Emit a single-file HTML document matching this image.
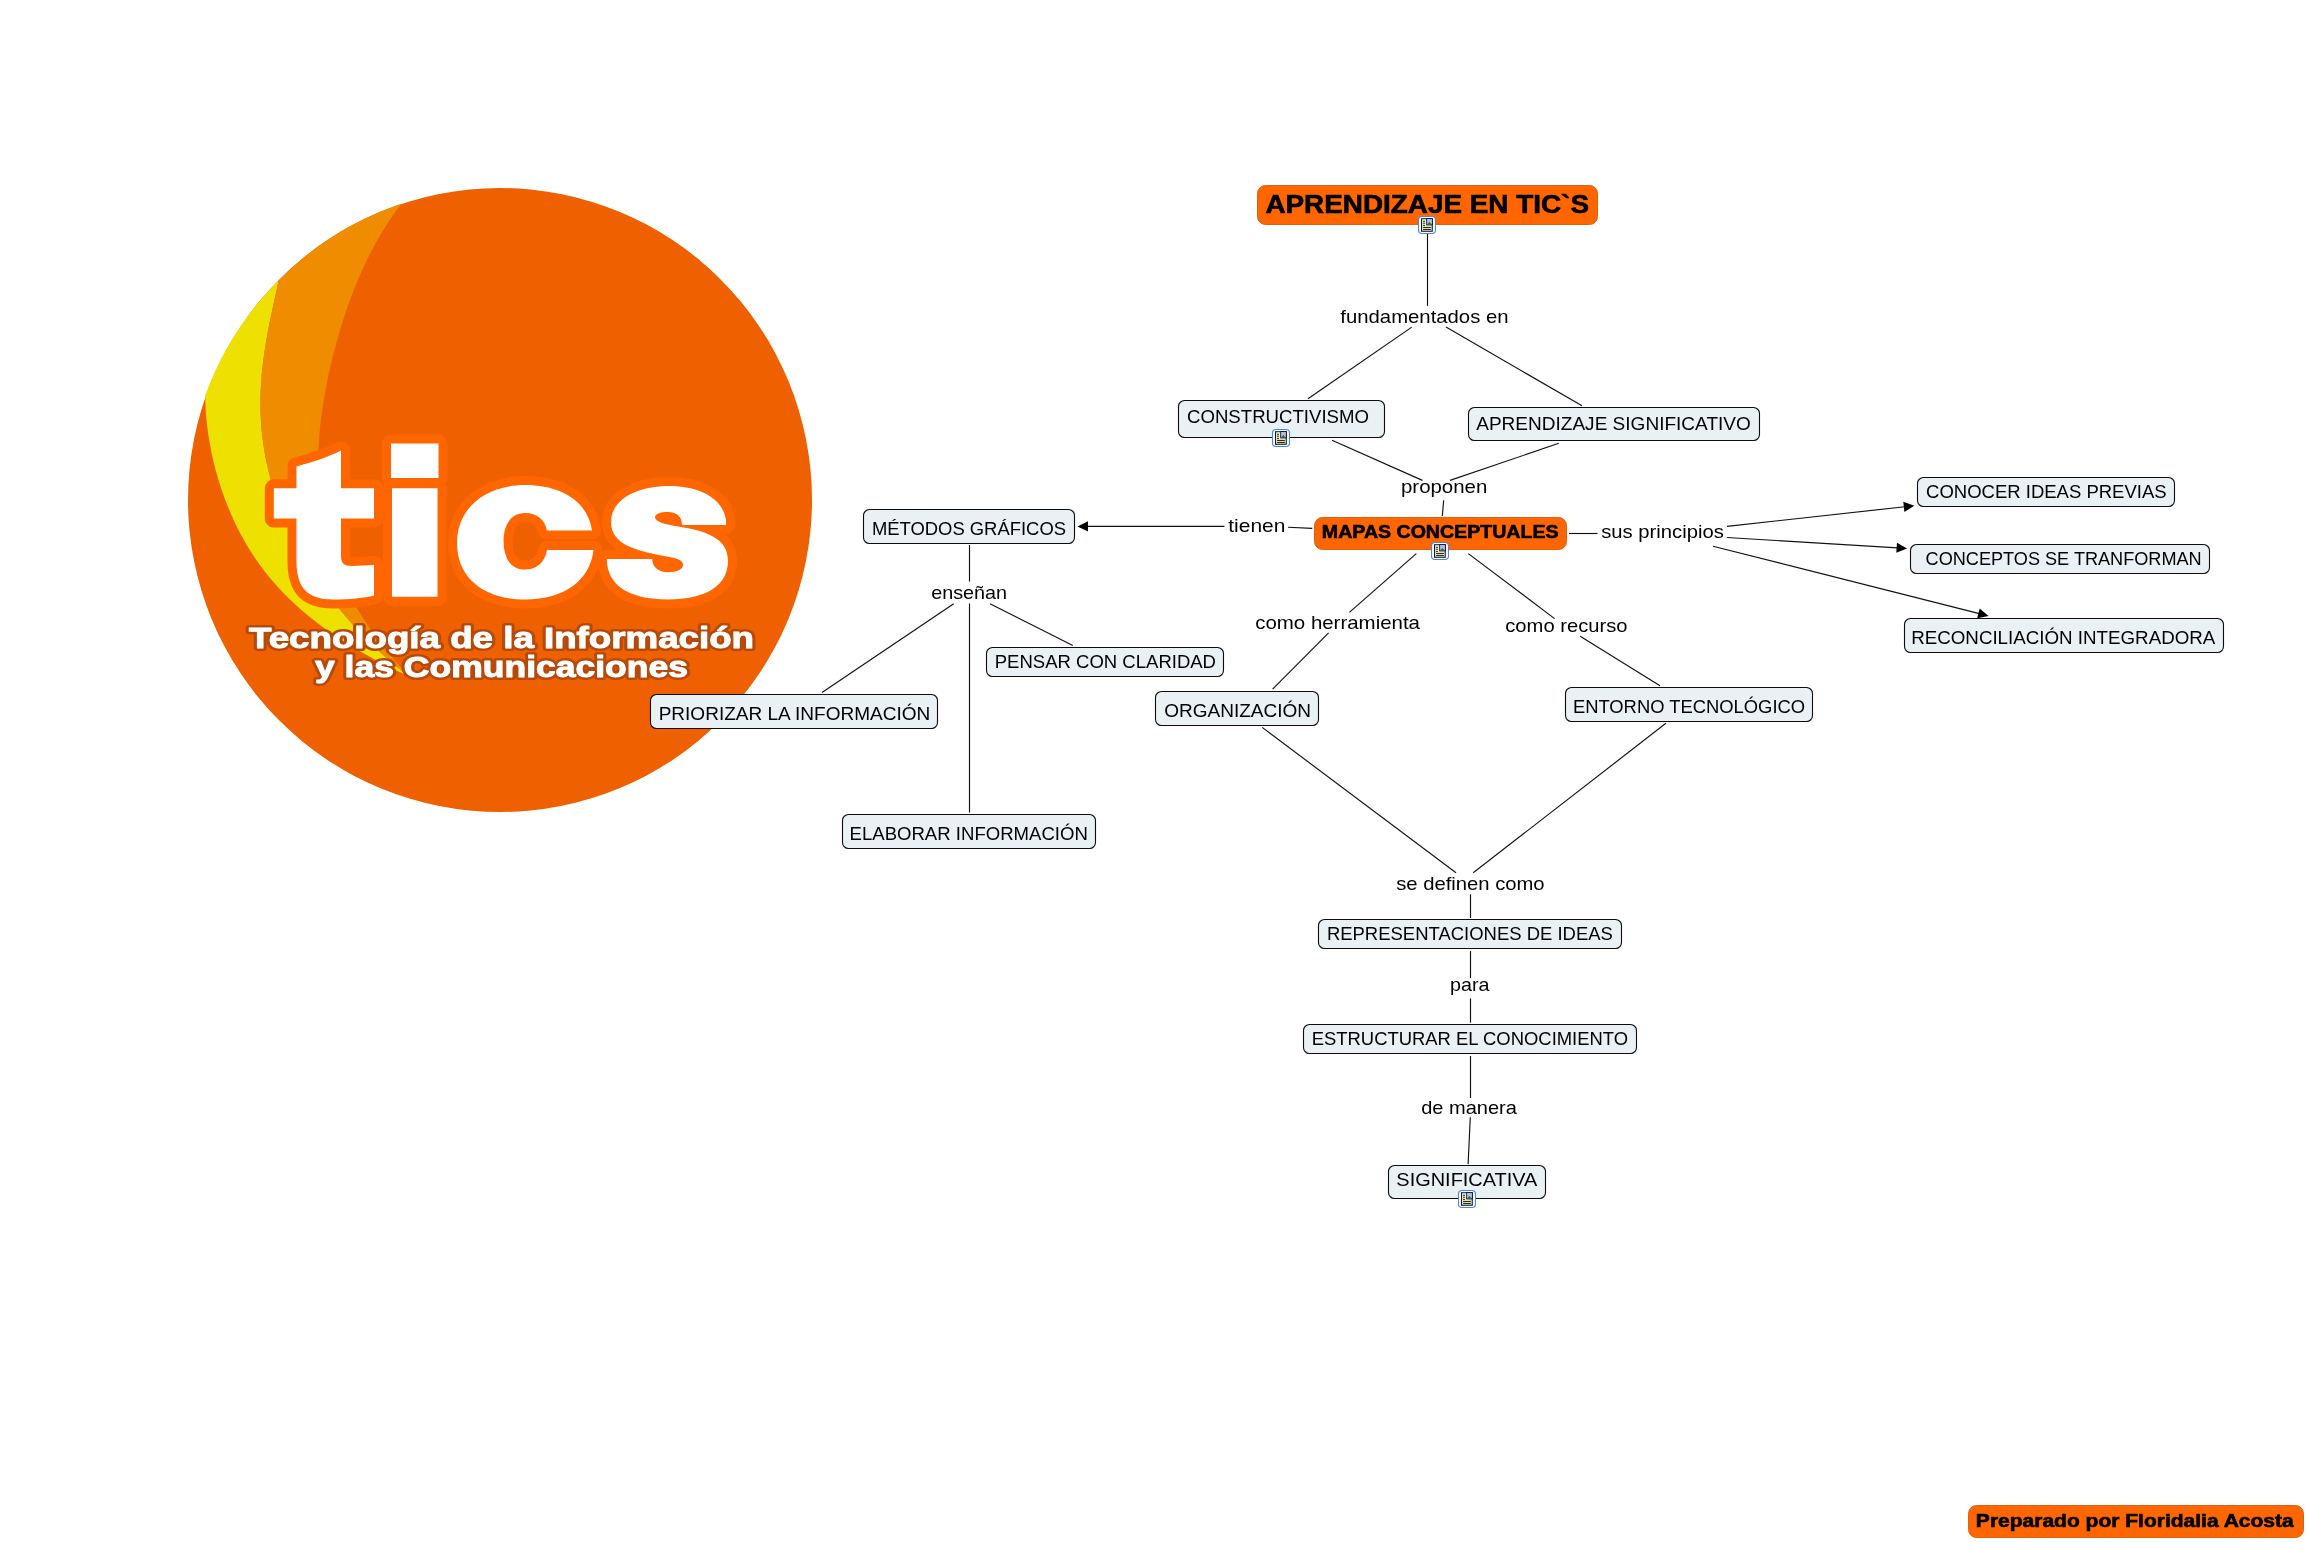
<!DOCTYPE html><html><head><meta charset="utf-8"><title>Mapa conceptual</title><style>html,body{margin:0;padding:0;background:#fff;}svg{display:block;will-change:transform;}text{font-family:"Liberation Sans",sans-serif;}#texts text{fill:#000;}#texts text[font-weight="700"]{fill:#000;stroke:#000;stroke-width:0.6px;}.ln line{stroke:#111;stroke-width:1.15;}.ah{fill:#000;stroke:none;}</style></head><body>
<svg width="2307" height="1542" viewBox="0 0 2307 1542">
<rect width="2307" height="1542" fill="#ffffff"/>
<g id="logo"><circle cx="500" cy="500" r="312" fill="#ee6000"/><path fill="#eee000" d="M 278.6,280.6 A 312 312 0 0 0 205.4,395 C 205.4,396 205.37,399 205.41,401 C 205.44,403 205.5,405 205.59,407 C 205.68,409 205.79,411 205.93,413 C 206.07,415 206.23,417 206.41,419 C 206.59,421 206.8,423 207.03,425 C 207.26,427 207.51,429 207.78,431 C 208.06,433 208.35,435 208.67,437 C 208.98,439 209.32,441 209.67,443 C 210.03,445 210.4,447 210.8,449 C 211.19,451 211.61,453 212.05,455 C 212.48,457 212.94,459 213.41,461 C 213.89,463 214.38,465 214.9,467 C 215.41,469 215.95,471 216.5,473 C 217.06,475 217.63,477 218.23,479 C 218.83,481 219.44,483 220.08,485 C 220.72,487 221.38,489 222.06,491 C 222.75,493 223.45,495 224.18,497 C 224.91,499 225.66,501 226.43,503 C 227.21,505 228,507 228.83,509 C 229.65,511 230.5,513 231.38,515 C 232.26,517 233.16,519 234.09,521 C 235.02,523 235.98,525 236.97,527 C 237.96,529 238.98,531 240.04,533 C 241.09,535 242.17,537 243.29,539 C 244.41,541 245.56,543 246.75,545 C 247.94,547 249.16,549 250.42,551 C 251.69,553 252.98,555 254.33,557 C 255.67,559 257.05,561 258.48,563 C 259.9,565 261.37,567 262.89,569 C 264.41,571 265.97,573 267.58,575 C 269.19,577 270.85,579 272.56,581 C 274.28,583 276.04,585 277.86,587 C 279.68,589 281.55,591 283.49,593 C 285.43,595 287.42,597 289.48,599 C 291.53,601 293.65,603 295.84,605 C 298.02,607 300.27,609 302.59,611 C 304.91,613 307.3,615 309.77,617 C 312.24,619 314.77,621 317.39,623 C 320.01,625 322.7,627 325.48,629 C 328.26,631 331.12,633 334.07,635 C 337.02,637 340.05,639 343.17,641 C 346.3,643 349.52,645 352.83,647 C 356.15,649 359.55,651 363.07,653 C 366.58,655 370.19,657 373.91,659 C 377.63,661 381.45,663 385.39,665 C 389.33,667 393.94,669.25 397.55,671 C 401.15,672.75 405.42,674.75 407,675.5 C 406.04,674.68 403.4,672.42 401.24,670.6 C 399.08,668.78 396.4,666.6 394.05,664.6 C 391.7,662.6 389.41,660.6 387.15,658.6 C 384.89,656.6 382.68,654.6 380.51,652.6 C 378.34,650.6 376.22,648.6 374.13,646.6 C 372.05,644.6 370.01,642.6 368,640.6 C 366,638.6 364.03,636.6 362.1,634.6 C 360.17,632.6 358.28,630.6 356.43,628.6 C 354.57,626.6 352.75,624.6 350.97,622.6 C 349.18,620.6 347.43,618.6 345.72,616.6 C 344,614.6 342.32,612.6 340.66,610.6 C 339.01,608.6 337.39,606.6 335.8,604.6 C 334.22,602.6 332.66,600.6 331.13,598.6 C 329.6,596.6 328.11,594.6 326.64,592.6 C 325.17,590.6 323.73,588.6 322.32,586.6 C 320.9,584.6 319.52,582.6 318.16,580.6 C 316.81,578.6 315.48,576.6 314.18,574.6 C 312.87,572.6 311.6,570.6 310.35,568.6 C 309.1,566.6 307.88,564.6 306.68,562.6 C 305.48,560.6 304.31,558.6 303.16,556.6 C 302.02,554.6 300.89,552.6 299.8,550.6 C 298.7,548.6 297.63,546.6 296.58,544.6 C 295.53,542.6 294.51,540.6 293.51,538.6 C 292.5,536.6 291.53,534.6 290.58,532.6 C 289.62,530.6 288.69,528.6 287.79,526.6 C 286.88,524.6 286,522.6 285.14,520.6 C 284.28,518.6 283.45,516.6 282.63,514.6 C 281.82,512.6 281.03,510.6 280.26,508.6 C 279.5,506.6 278.75,504.6 278.03,502.6 C 277.31,500.6 276.61,498.6 275.94,496.6 C 275.26,494.6 274.61,492.6 273.98,490.6 C 273.35,488.6 272.74,486.6 272.15,484.6 C 271.57,482.6 271,480.6 270.46,478.6 C 269.92,476.6 269.4,474.6 268.91,472.6 C 268.41,470.6 267.94,468.6 267.49,466.6 C 267.03,464.6 266.6,462.6 266.2,460.6 C 265.79,458.6 265.4,456.6 265.04,454.6 C 264.68,452.6 264.34,450.6 264.02,448.6 C 263.7,446.6 263.4,444.6 263.13,442.6 C 262.85,440.6 262.6,438.6 262.36,436.6 C 262.13,434.6 261.92,432.6 261.73,430.6 C 261.54,428.6 261.37,426.6 261.23,424.6 C 261.08,422.6 260.95,420.6 260.85,418.6 C 260.74,416.6 260.66,414.6 260.6,412.6 C 260.53,410.6 260.49,408.6 260.47,406.6 C 260.44,404.6 260.44,402.6 260.46,400.6 C 260.47,398.6 260.51,396.6 260.57,394.6 C 260.62,392.6 260.7,390.6 260.79,388.6 C 260.89,386.6 261,384.6 261.13,382.6 C 261.26,380.6 261.41,378.6 261.58,376.6 C 261.75,374.6 261.93,372.6 262.13,370.6 C 262.33,368.6 262.55,366.6 262.78,364.6 C 263.02,362.6 263.27,360.6 263.53,358.6 C 263.79,356.6 264.07,354.6 264.37,352.6 C 264.66,350.6 264.97,348.6 265.29,346.6 C 265.61,344.6 265.94,342.6 266.29,340.6 C 266.63,338.6 266.99,336.6 267.36,334.6 C 267.72,332.6 268.1,330.6 268.49,328.6 C 268.87,326.6 269.27,324.6 269.67,322.6 C 270.08,320.6 270.49,318.6 270.9,316.6 C 271.32,314.6 271.74,312.6 272.17,310.6 C 272.6,308.6 273.03,306.6 273.46,304.6 C 273.9,302.6 274.33,300.6 274.77,298.6 C 275.2,296.6 275.64,294.6 276.08,292.6 C 276.51,290.6 276.95,288.6 277.37,286.6 C 277.8,284.6 278.4,281.6 278.6,280.6 Z"/><path fill="#ef8c00" d="M 401.9,203.6 A 312 312 0 0 0 278.6,280.6 C 278.4,281.6 277.8,284.6 277.37,286.6 C 276.95,288.6 276.51,290.6 276.08,292.6 C 275.64,294.6 275.2,296.6 274.77,298.6 C 274.33,300.6 273.9,302.6 273.46,304.6 C 273.03,306.6 272.6,308.6 272.17,310.6 C 271.74,312.6 271.32,314.6 270.9,316.6 C 270.49,318.6 270.08,320.6 269.67,322.6 C 269.27,324.6 268.87,326.6 268.49,328.6 C 268.1,330.6 267.72,332.6 267.36,334.6 C 266.99,336.6 266.63,338.6 266.29,340.6 C 265.94,342.6 265.61,344.6 265.29,346.6 C 264.97,348.6 264.66,350.6 264.37,352.6 C 264.07,354.6 263.79,356.6 263.53,358.6 C 263.27,360.6 263.02,362.6 262.78,364.6 C 262.55,366.6 262.33,368.6 262.13,370.6 C 261.93,372.6 261.75,374.6 261.58,376.6 C 261.41,378.6 261.26,380.6 261.13,382.6 C 261,384.6 260.89,386.6 260.79,388.6 C 260.7,390.6 260.62,392.6 260.57,394.6 C 260.51,396.6 260.47,398.6 260.46,400.6 C 260.44,402.6 260.44,404.6 260.47,406.6 C 260.49,408.6 260.53,410.6 260.6,412.6 C 260.66,414.6 260.74,416.6 260.85,418.6 C 260.95,420.6 261.08,422.6 261.23,424.6 C 261.37,426.6 261.54,428.6 261.73,430.6 C 261.92,432.6 262.13,434.6 262.36,436.6 C 262.6,438.6 262.85,440.6 263.13,442.6 C 263.4,444.6 263.7,446.6 264.02,448.6 C 264.34,450.6 264.68,452.6 265.04,454.6 C 265.4,456.6 265.79,458.6 266.2,460.6 C 266.6,462.6 267.03,464.6 267.49,466.6 C 267.94,468.6 268.41,470.6 268.91,472.6 C 269.4,474.6 269.92,476.6 270.46,478.6 C 271,480.6 271.57,482.6 272.15,484.6 C 272.74,486.6 273.35,488.6 273.98,490.6 C 274.61,492.6 275.26,494.6 275.94,496.6 C 276.61,498.6 277.31,500.6 278.03,502.6 C 278.75,504.6 279.5,506.6 280.26,508.6 C 281.03,510.6 281.82,512.6 282.63,514.6 C 283.45,516.6 284.28,518.6 285.14,520.6 C 286,522.6 286.88,524.6 287.79,526.6 C 288.69,528.6 289.62,530.6 290.58,532.6 C 291.53,534.6 292.5,536.6 293.51,538.6 C 294.51,540.6 295.53,542.6 296.58,544.6 C 297.63,546.6 298.7,548.6 299.8,550.6 C 300.89,552.6 302.02,554.6 303.16,556.6 C 304.31,558.6 305.48,560.6 306.68,562.6 C 307.88,564.6 309.1,566.6 310.35,568.6 C 311.6,570.6 312.87,572.6 314.18,574.6 C 315.48,576.6 316.81,578.6 318.16,580.6 C 319.52,582.6 320.9,584.6 322.32,586.6 C 323.73,588.6 325.17,590.6 326.64,592.6 C 328.11,594.6 329.6,596.6 331.13,598.6 C 332.66,600.6 334.22,602.6 335.8,604.6 C 337.39,606.6 339.01,608.6 340.66,610.6 C 342.32,612.6 344,614.6 345.72,616.6 C 347.43,618.6 349.18,620.6 350.97,622.6 C 352.75,624.6 354.57,626.6 356.43,628.6 C 358.28,630.6 360.17,632.6 362.1,634.6 C 364.03,636.6 366,638.6 368,640.6 C 370.01,642.6 372.05,644.6 374.13,646.6 C 376.22,648.6 378.34,650.6 380.51,652.6 C 382.68,654.6 384.89,656.6 387.15,658.6 C 389.41,660.6 391.7,662.6 394.05,664.6 C 396.4,666.6 399.08,668.78 401.24,670.6 C 403.4,672.42 406.04,674.68 407,675.5 C 406.56,674.85 405.67,673.25 404.34,671.6 C 403.02,669.95 400.78,667.6 399.04,665.6 C 397.3,663.6 395.59,661.6 393.91,659.6 C 392.22,657.6 390.56,655.6 388.93,653.6 C 387.3,651.6 385.7,649.6 384.13,647.6 C 382.56,645.6 381.02,643.6 379.5,641.6 C 377.99,639.6 376.5,637.6 375.04,635.6 C 373.59,633.6 372.16,631.6 370.76,629.6 C 369.36,627.6 368,625.6 366.66,623.6 C 365.32,621.6 364.01,619.6 362.73,617.6 C 361.45,615.6 360.2,613.6 358.98,611.6 C 357.76,609.6 356.57,607.6 355.41,605.6 C 354.25,603.6 353.11,601.6 352.01,599.6 C 350.91,597.6 349.84,595.6 348.79,593.6 C 347.75,591.6 346.74,589.6 345.75,587.6 C 344.77,585.6 343.81,583.6 342.88,581.6 C 341.96,579.6 341.06,577.6 340.19,575.6 C 339.32,573.6 338.48,571.6 337.66,569.6 C 336.85,567.6 336.06,565.6 335.31,563.6 C 334.55,561.6 333.82,559.6 333.12,557.6 C 332.41,555.6 331.74,553.6 331.09,551.6 C 330.44,549.6 329.82,547.6 329.22,545.6 C 328.63,543.6 328.06,541.6 327.52,539.6 C 326.97,537.6 326.45,535.6 325.96,533.6 C 325.47,531.6 325,529.6 324.56,527.6 C 324.12,525.6 323.7,523.6 323.31,521.6 C 322.91,519.6 322.54,517.6 322.2,515.6 C 321.85,513.6 321.53,511.6 321.23,509.6 C 320.93,507.6 320.65,505.6 320.4,503.6 C 320.14,501.6 319.91,499.6 319.7,497.6 C 319.49,495.6 319.3,493.6 319.13,491.6 C 318.96,489.6 318.81,487.6 318.69,485.6 C 318.56,483.6 318.45,481.6 318.36,479.6 C 318.28,477.6 318.21,475.6 318.16,473.6 C 318.11,471.6 318.08,469.6 318.07,467.6 C 318.06,465.6 318.06,463.6 318.09,461.6 C 318.11,459.6 318.16,457.6 318.21,455.6 C 318.27,453.6 318.35,451.6 318.44,449.6 C 318.54,447.6 318.65,445.6 318.77,443.6 C 318.9,441.6 319.04,439.6 319.19,437.6 C 319.35,435.6 319.52,433.6 319.71,431.6 C 319.89,429.6 320.1,427.6 320.31,425.6 C 320.53,423.6 320.76,421.6 321,419.6 C 321.24,417.6 321.5,415.6 321.77,413.6 C 322.04,411.6 322.33,409.6 322.63,407.6 C 322.92,405.6 323.23,403.6 323.56,401.6 C 323.88,399.6 324.21,397.6 324.56,395.6 C 324.91,393.6 325.27,391.6 325.64,389.6 C 326.01,387.6 326.4,385.6 326.79,383.6 C 327.19,381.6 327.6,379.6 328.01,377.6 C 328.43,375.6 328.86,373.6 329.3,371.6 C 329.75,369.6 330.2,367.6 330.66,365.6 C 331.13,363.6 331.6,361.6 332.09,359.6 C 332.58,357.6 333.07,355.6 333.58,353.6 C 334.09,351.6 334.61,349.6 335.15,347.6 C 335.68,345.6 336.22,343.6 336.78,341.6 C 337.33,339.6 337.9,337.6 338.48,335.6 C 339.05,333.6 339.64,331.6 340.25,329.6 C 340.85,327.6 341.46,325.6 342.09,323.6 C 342.72,321.6 343.36,319.6 344.01,317.6 C 344.66,315.6 345.33,313.6 346,311.6 C 346.68,309.6 347.37,307.6 348.08,305.6 C 348.79,303.6 349.51,301.6 350.24,299.6 C 350.98,297.6 351.73,295.6 352.49,293.6 C 353.26,291.6 354.04,289.6 354.84,287.6 C 355.64,285.6 356.45,283.6 357.28,281.6 C 358.12,279.6 358.97,277.6 359.83,275.6 C 360.7,273.6 361.59,271.6 362.5,269.6 C 363.4,267.6 364.33,265.6 365.28,263.6 C 366.22,261.6 367.19,259.6 368.18,257.6 C 369.18,255.6 370.19,253.6 371.23,251.6 C 372.26,249.6 373.33,247.6 374.41,245.6 C 375.5,243.6 376.61,241.6 377.76,239.6 C 378.9,237.6 380.06,235.6 381.26,233.6 C 382.46,231.6 383.69,229.6 384.94,227.6 C 386.2,225.6 387.49,223.6 388.81,221.6 C 390.14,219.6 391.49,217.6 392.88,215.6 C 394.28,213.6 395.67,211.6 397.17,209.6 C 398.67,207.6 401.11,204.6 401.9,203.6 Z"/></g>

<g id="tics" fill="#ffffff" stroke="#ff6600" stroke-width="18" stroke-linejoin="round" paint-order="stroke">
  <path d="M 296.5,466.5 C 312,462 326,458 341,450.5 L 341,488.3 L 374,488.3 L 374,518.6 L 341,518.6 L 341,556 C 341,563 344,566 352,566 L 374,565 L 374,595.5 C 364,598 350,599.5 333,599.5 C 308,599.5 296.5,588 296.5,562 L 296.5,518.6 L 273.8,518.6 L 273.8,488.3 L 296.5,488.3 Z"/>
  <path d="M 391,443.5 L 438.5,443.5 L 438.5,478 L 391,478 Z M 392,488.3 L 437.5,488.3 L 437.5,596.8 L 392,596.8 Z"/>
  <path d="M 592,530.5 C 588,502 562,485 525,485 C 483,485 457,510 457,543 C 457,578 484,599.5 525,599.5 C 565,599.5 590,580 593.5,550 L 547,550 C 545,562 537,569.5 525,569.5 C 510,569.5 503.6,557 503.6,541 C 503.6,525 511,513 525,513 C 537,513 545,520 547,530.5 Z"/>
  <path d="M 669,486 C 702,486 724,500 726,521 L 726,525 L 682,525 C 682,517 677,512 668,512 C 660,512 655,514 655,517.5 C 656,522 664,524.5 681,527 C 712,532 728,541 728,561 C 728,586 705,599.5 668,599.5 C 630,599.5 607,586 606.8,559 L 652.2,559 C 652.2,568 660,572.2 668,572.2 C 678,572.2 683,569 683,565 C 683,561 679,559 672,557.5 C 636,551 611,545 611,522 C 611,500 636,486 669,486 Z"/>
</g>

<g id="sub"><g style="font-family:'Liberation Sans',sans-serif;font-weight:700;fill:#b64a0a;stroke:#b64a0a;stroke-width:6px;stroke-linejoin:round"><text x="249" y="647.5" font-size="29" textLength="505" lengthAdjust="spacingAndGlyphs">Tecnología de la Información</text><text x="315" y="676.5" font-size="29" textLength="373" lengthAdjust="spacingAndGlyphs">y las Comunicaciones</text></g><g style="font-family:'Liberation Sans',sans-serif;font-weight:700;fill:#ffffff;stroke:#ffffff;stroke-width:1px;stroke-linejoin:round"><text x="249" y="647.5" font-size="29" textLength="505" lengthAdjust="spacingAndGlyphs">Tecnología de la Información</text><text x="315" y="676.5" font-size="29" textLength="373" lengthAdjust="spacingAndGlyphs">y las Comunicaciones</text></g></g>
<g class="ln" id="lines">
<line x1="1427.5" y1="234" x2="1427.5" y2="305.9"/>
<line x1="1411.8" y1="327.1" x2="1308" y2="398.8"/>
<line x1="1446" y1="327.1" x2="1582" y2="405.8"/>
<line x1="1332" y1="440.3" x2="1422.4" y2="480.4"/>
<line x1="1558.8" y1="443.3" x2="1450" y2="480.4"/>
<line x1="1443.7" y1="500.3" x2="1442.3" y2="516"/>
<line x1="1312.3" y1="528.4" x2="1288" y2="527.2"/>
<line x1="1569" y1="533.5" x2="1597.5" y2="533.5"/>
<line x1="1416.3" y1="553.6" x2="1349.4" y2="612.4"/>
<line x1="1328.6" y1="632.9" x2="1272.6" y2="689.2"/>
<line x1="1468.3" y1="553.6" x2="1554.6" y2="618.6"/>
<line x1="1580.2" y1="636.3" x2="1660" y2="685.7"/>
<line x1="1262.2" y1="727.4" x2="1456" y2="872.8"/>
<line x1="1665.9" y1="723.3" x2="1473.2" y2="872.8"/>
<line x1="1470.5" y1="894.3" x2="1470.5" y2="918"/>
<line x1="1470.5" y1="951.1" x2="1470.5" y2="978.1"/>
<line x1="1470.5" y1="998.4" x2="1470.5" y2="1022.6"/>
<line x1="1470.5" y1="1056" x2="1470.5" y2="1098"/>
<line x1="1470.3" y1="1117.3" x2="1468.1" y2="1164.1"/>
<line x1="969.5" y1="545" x2="969.5" y2="581.5"/>
<line x1="969.5" y1="603.5" x2="969.5" y2="812.6"/>
<line x1="953.7" y1="603.7" x2="822" y2="692.4"/>
<line x1="990" y1="603.7" x2="1072.8" y2="645.6"/>
<line x1="1224.5" y1="526.4" x2="1087" y2="526.4"/><polygon class="ah" points="1077.5,526.4 1088,521.3 1088,531.5"/>
<line x1="1727" y1="526.4" x2="1904.86" y2="506.74"/><polygon class="ah" points="1914.3,505.7 1904.42,511.92 1903.3,501.78"/>
<line x1="1727" y1="537.5" x2="1897.62" y2="547.83"/><polygon class="ah" points="1907.1,548.4 1896.31,552.86 1896.93,542.67"/>
<line x1="1713" y1="546.2" x2="1979.39" y2="613.67"/><polygon class="ah" points="1988.6,616 1977.17,618.37 1979.67,608.48"/>
</g>
<g id="boxes">
<rect x="1178.5" y="400.5" width="206" height="37" rx="6" ry="6" fill="#e9f1f4" stroke="#0d0d0d" stroke-width="1.1"/>
<rect x="1468.5" y="407.5" width="291" height="33" rx="6" ry="6" fill="#e9f1f4" stroke="#0d0d0d" stroke-width="1.1"/>
<rect x="1917.5" y="477.5" width="257" height="29" rx="6" ry="6" fill="#e9f1f4" stroke="#0d0d0d" stroke-width="1.1"/>
<rect x="1910.5" y="544.5" width="299" height="29" rx="6" ry="6" fill="#e9f1f4" stroke="#0d0d0d" stroke-width="1.1"/>
<rect x="1904.5" y="618.5" width="319" height="34" rx="6" ry="6" fill="#e9f1f4" stroke="#0d0d0d" stroke-width="1.1"/>
<rect x="863.5" y="509.5" width="211" height="34" rx="6" ry="6" fill="#e9f1f4" stroke="#0d0d0d" stroke-width="1.1"/>
<rect x="986.5" y="647.5" width="237" height="29" rx="6" ry="6" fill="#e9f1f4" stroke="#0d0d0d" stroke-width="1.1"/>
<rect x="650.5" y="694.5" width="287" height="34" rx="6" ry="6" fill="#e9f1f4" stroke="#0d0d0d" stroke-width="1.1"/>
<rect x="842.5" y="814.5" width="253" height="34" rx="6" ry="6" fill="#e9f1f4" stroke="#0d0d0d" stroke-width="1.1"/>
<rect x="1155.5" y="691.5" width="163" height="34" rx="6" ry="6" fill="#e9f1f4" stroke="#0d0d0d" stroke-width="1.1"/>
<rect x="1565.5" y="687.5" width="247" height="34" rx="6" ry="6" fill="#e9f1f4" stroke="#0d0d0d" stroke-width="1.1"/>
<rect x="1318.5" y="919.5" width="303" height="29" rx="6" ry="6" fill="#e9f1f4" stroke="#0d0d0d" stroke-width="1.1"/>
<rect x="1303.5" y="1024.5" width="333" height="29" rx="6" ry="6" fill="#e9f1f4" stroke="#0d0d0d" stroke-width="1.1"/>
<rect x="1388.5" y="1165.5" width="157" height="33" rx="6" ry="6" fill="#e9f1f4" stroke="#0d0d0d" stroke-width="1.1"/>
<rect x="1257.5" y="185.5" width="340" height="39" rx="8" ry="8" fill="#ff6600" stroke="#dc6212" stroke-width="1"/>
<rect x="1314.5" y="517.5" width="252" height="32" rx="8" ry="8" fill="#ff6600" stroke="#dc6212" stroke-width="1"/>
<rect x="1968.5" y="1505.5" width="335" height="32" rx="8" ry="8" fill="#ff6600" stroke="#dc6212" stroke-width="1"/>
</g>
<g id="texts">
<text id="t_constr" x="1186.99" y="423.4" font-size="18.5" font-weight="400" textLength="182.02" lengthAdjust="spacingAndGlyphs">CONSTRUCTIVISMO</text>
<text id="t_apsig" x="1476.2" y="430.2" font-size="18.5" font-weight="400" textLength="274.61" lengthAdjust="spacingAndGlyphs">APRENDIZAJE SIGNIFICATIVO</text>
<text id="t_conocer" x="1926.09" y="498.4" font-size="18.5" font-weight="400" textLength="240.52" lengthAdjust="spacingAndGlyphs">CONOCER IDEAS PREVIAS</text>
<text id="t_concept" x="1925.59" y="565.4" font-size="18.5" font-weight="400" textLength="276.12" lengthAdjust="spacingAndGlyphs">CONCEPTOS SE TRANFORMAN</text>
<text id="t_reconc" x="1911.19" y="643.7" font-size="18.5" font-weight="400" textLength="304.12" lengthAdjust="spacingAndGlyphs">RECONCILIACIÓN INTEGRADORA</text>
<text id="t_metodos" x="871.88" y="534.7" font-size="18.5" font-weight="400" textLength="194.14" lengthAdjust="spacingAndGlyphs">MÉTODOS GRÁFICOS</text>
<text id="t_pensar" x="994.78" y="668.2" font-size="18.5" font-weight="400" textLength="221.23" lengthAdjust="spacingAndGlyphs">PENSAR CON CLARIDAD</text>
<text id="t_prior" x="658.67" y="719.8" font-size="18.5" font-weight="400" textLength="271.65" lengthAdjust="spacingAndGlyphs">PRIORIZAR LA INFORMACIÓN</text>
<text id="t_elab" x="849.57" y="839.7" font-size="18.5" font-weight="400" textLength="238.25" lengthAdjust="spacingAndGlyphs">ELABORAR INFORMACIÓN</text>
<text id="t_org" x="1164.18" y="717" font-size="18.5" font-weight="400" textLength="146.85" lengthAdjust="spacingAndGlyphs">ORGANIZACIÓN</text>
<text id="t_entorno" x="1572.88" y="712.6" font-size="18.5" font-weight="400" textLength="232.23" lengthAdjust="spacingAndGlyphs">ENTORNO TECNOLÓGICO</text>
<text id="t_repr" x="1326.89" y="940.2" font-size="18.5" font-weight="400" textLength="286.02" lengthAdjust="spacingAndGlyphs">REPRESENTACIONES DE IDEAS</text>
<text id="t_estr" x="1311.68" y="1045.2" font-size="18.5" font-weight="400" textLength="316.43" lengthAdjust="spacingAndGlyphs">ESTRUCTURAR EL CONOCIMIENTO</text>
<text id="t_signif" x="1396.39" y="1186.4" font-size="18.5" font-weight="400" textLength="141.01" lengthAdjust="spacingAndGlyphs">SIGNIFICATIVA</text>
<text id="t_title" x="1265.4" y="212.5" font-size="25.3" font-weight="700" textLength="323.61" lengthAdjust="spacingAndGlyphs">APRENDIZAJE EN TIC`S</text>
<text id="t_mapas" x="1321.89" y="538" font-size="18.5" font-weight="700" textLength="236.61" lengthAdjust="spacingAndGlyphs">MAPAS CONCEPTUALES</text>
<text id="t_footer" x="1975.89" y="1526.8" font-size="18.5" font-weight="700" textLength="317.81" lengthAdjust="spacingAndGlyphs">Preparado por Floridalia Acosta</text>
<text id="l_fund" x="1340.39" y="323" font-size="18.5" font-weight="400" textLength="168.12" lengthAdjust="spacingAndGlyphs">fundamentados en</text>
<text id="l_prop" x="1400.97" y="493.4" font-size="18.5" font-weight="400" textLength="86.37" lengthAdjust="spacingAndGlyphs">proponen</text>
<text id="l_tienen" x="1228.27" y="532" font-size="18.5" font-weight="400" textLength="57.11" lengthAdjust="spacingAndGlyphs">tienen</text>
<text id="l_sus" x="1601.18" y="538" font-size="18.5" font-weight="400" textLength="122.62" lengthAdjust="spacingAndGlyphs">sus principios</text>
<text id="l_ensen" x="931.16" y="599.2" font-size="18.5" font-weight="400" textLength="75.86" lengthAdjust="spacingAndGlyphs">enseñan</text>
<text id="l_herr" x="1255.19" y="628.9" font-size="18.5" font-weight="400" textLength="164.81" lengthAdjust="spacingAndGlyphs">como herramienta</text>
<text id="l_recur" x="1505.28" y="632" font-size="18.5" font-weight="400" textLength="122.23" lengthAdjust="spacingAndGlyphs">como recurso</text>
<text id="l_defin" x="1396.18" y="889.9" font-size="18.5" font-weight="400" textLength="148.43" lengthAdjust="spacingAndGlyphs">se definen como</text>
<text id="l_para" x="1449.98" y="991" font-size="18.5" font-weight="400" textLength="39.46" lengthAdjust="spacingAndGlyphs">para</text>
<text id="l_manera" x="1421.18" y="1113.7" font-size="18.5" font-weight="400" textLength="95.63" lengthAdjust="spacingAndGlyphs">de manera</text>
</g>
<g id="icons">
<g transform="translate(1418,216)"><rect x="0.5" y="0.5" width="17" height="17" rx="3.5" fill="#f6fcff" stroke="#4f86d8" stroke-width="1.1"/><rect x="3" y="2.2" width="11.8" height="13.6" fill="#0f1640"/><rect x="4.1" y="3.2" width="9.6" height="11.5" fill="#f7f2c4"/><rect x="8.2" y="2.2" width="6.6" height="7.2" fill="#0f1640"/><rect x="9.1" y="3.0" width="4.8" height="5.4" fill="#a9c2f2"/><polygon points="9.1,8.4 11.2,5.9 13.9,8.4" fill="#2f6b2a"/><rect x="11.8" y="3.0" width="2.1" height="1.9" fill="#f2a66a"/><rect x="5.1" y="4.8" width="1.8" height="1.1" fill="#2a2a1a"/><rect x="5.1" y="6.7" width="1.8" height="1.1" fill="#2a2a1a"/><rect x="5.1" y="8.9" width="1.8" height="1.1" fill="#2a2a1a"/><rect x="5.1" y="10.9" width="7.8" height="1.1" fill="#2a2a1a"/><rect x="5.1" y="12.9" width="7.8" height="1.1" fill="#2a2a1a"/></g>
<g transform="translate(1272,429)"><rect x="0.5" y="0.5" width="17" height="17" rx="3.5" fill="#f6fcff" stroke="#4f86d8" stroke-width="1.1"/><rect x="3" y="2.2" width="11.8" height="13.6" fill="#0f1640"/><rect x="4.1" y="3.2" width="9.6" height="11.5" fill="#f7f2c4"/><rect x="8.2" y="2.2" width="6.6" height="7.2" fill="#0f1640"/><rect x="9.1" y="3.0" width="4.8" height="5.4" fill="#a9c2f2"/><polygon points="9.1,8.4 11.2,5.9 13.9,8.4" fill="#2f6b2a"/><rect x="11.8" y="3.0" width="2.1" height="1.9" fill="#f2a66a"/><rect x="5.1" y="4.8" width="1.8" height="1.1" fill="#2a2a1a"/><rect x="5.1" y="6.7" width="1.8" height="1.1" fill="#2a2a1a"/><rect x="5.1" y="8.9" width="1.8" height="1.1" fill="#2a2a1a"/><rect x="5.1" y="10.9" width="7.8" height="1.1" fill="#2a2a1a"/><rect x="5.1" y="12.9" width="7.8" height="1.1" fill="#2a2a1a"/></g>
<g transform="translate(1431,542)"><rect x="0.5" y="0.5" width="17" height="17" rx="3.5" fill="#f6fcff" stroke="#4f86d8" stroke-width="1.1"/><rect x="3" y="2.2" width="11.8" height="13.6" fill="#0f1640"/><rect x="4.1" y="3.2" width="9.6" height="11.5" fill="#f7f2c4"/><rect x="8.2" y="2.2" width="6.6" height="7.2" fill="#0f1640"/><rect x="9.1" y="3.0" width="4.8" height="5.4" fill="#a9c2f2"/><polygon points="9.1,8.4 11.2,5.9 13.9,8.4" fill="#2f6b2a"/><rect x="11.8" y="3.0" width="2.1" height="1.9" fill="#f2a66a"/><rect x="5.1" y="4.8" width="1.8" height="1.1" fill="#2a2a1a"/><rect x="5.1" y="6.7" width="1.8" height="1.1" fill="#2a2a1a"/><rect x="5.1" y="8.9" width="1.8" height="1.1" fill="#2a2a1a"/><rect x="5.1" y="10.9" width="7.8" height="1.1" fill="#2a2a1a"/><rect x="5.1" y="12.9" width="7.8" height="1.1" fill="#2a2a1a"/></g>
<g transform="translate(1458,1190)"><rect x="0.5" y="0.5" width="17" height="17" rx="3.5" fill="#f6fcff" stroke="#4f86d8" stroke-width="1.1"/><rect x="3" y="2.2" width="11.8" height="13.6" fill="#0f1640"/><rect x="4.1" y="3.2" width="9.6" height="11.5" fill="#f7f2c4"/><rect x="8.2" y="2.2" width="6.6" height="7.2" fill="#0f1640"/><rect x="9.1" y="3.0" width="4.8" height="5.4" fill="#a9c2f2"/><polygon points="9.1,8.4 11.2,5.9 13.9,8.4" fill="#2f6b2a"/><rect x="11.8" y="3.0" width="2.1" height="1.9" fill="#f2a66a"/><rect x="5.1" y="4.8" width="1.8" height="1.1" fill="#2a2a1a"/><rect x="5.1" y="6.7" width="1.8" height="1.1" fill="#2a2a1a"/><rect x="5.1" y="8.9" width="1.8" height="1.1" fill="#2a2a1a"/><rect x="5.1" y="10.9" width="7.8" height="1.1" fill="#2a2a1a"/><rect x="5.1" y="12.9" width="7.8" height="1.1" fill="#2a2a1a"/></g>
</g>
</svg></body></html>
